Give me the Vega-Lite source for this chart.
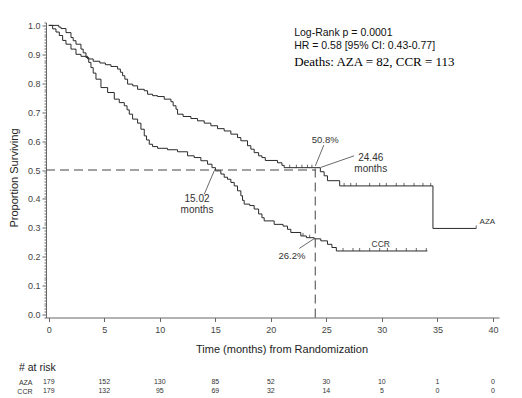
{
  "$schema": "https://vega.github.io/schema/vega-lite/v6.json",
  "background": "white",
  "padding": {"left": 8, "top": 18.5, "right": 5, "bottom": 0},
  "spacing": 8,
  "config": {"view": {"stroke": null}, "font": "Liberation Sans"},
  "datasets": {
    "km": [
      {"arm": "AZA", "t": 0, "s": 1.0}, {"arm": "AZA", "t": 0.35, "s": 0.988}, {"arm": "AZA", "t": 0.65, "s": 0.977}, {"arm": "AZA", "t": 0.95, "s": 0.965},
      {"arm": "AZA", "t": 1.25, "s": 0.948}, {"arm": "AZA", "t": 1.55, "s": 0.935}, {"arm": "AZA", "t": 2.0, "s": 0.918}, {"arm": "AZA", "t": 2.45, "s": 0.9},
      {"arm": "AZA", "t": 2.9, "s": 0.893}, {"arm": "AZA", "t": 3.5, "s": 0.884}, {"arm": "AZA", "t": 4.0, "s": 0.876}, {"arm": "AZA", "t": 4.6, "s": 0.87},
      {"arm": "AZA", "t": 5.1, "s": 0.864}, {"arm": "AZA", "t": 5.6, "s": 0.858}, {"arm": "AZA", "t": 6.2, "s": 0.849}, {"arm": "AZA", "t": 6.45, "s": 0.838},
      {"arm": "AZA", "t": 6.65, "s": 0.826}, {"arm": "AZA", "t": 6.85, "s": 0.814}, {"arm": "AZA", "t": 7.1, "s": 0.797}, {"arm": "AZA", "t": 7.56, "s": 0.791},
      {"arm": "AZA", "t": 8.0, "s": 0.779}, {"arm": "AZA", "t": 8.6, "s": 0.774}, {"arm": "AZA", "t": 8.9, "s": 0.762}, {"arm": "AZA", "t": 9.35, "s": 0.757},
      {"arm": "AZA", "t": 9.8, "s": 0.754}, {"arm": "AZA", "t": 10.4, "s": 0.745}, {"arm": "AZA", "t": 11.0, "s": 0.736}, {"arm": "AZA", "t": 11.2, "s": 0.722},
      {"arm": "AZA", "t": 11.46, "s": 0.71}, {"arm": "AZA", "t": 11.6, "s": 0.693}, {"arm": "AZA", "t": 12.1, "s": 0.685}, {"arm": "AZA", "t": 12.8, "s": 0.678},
      {"arm": "AZA", "t": 13.4, "s": 0.67}, {"arm": "AZA", "t": 14.0, "s": 0.662}, {"arm": "AZA", "t": 14.6, "s": 0.653}, {"arm": "AZA", "t": 15.2, "s": 0.643},
      {"arm": "AZA", "t": 15.8, "s": 0.635}, {"arm": "AZA", "t": 16.4, "s": 0.624}, {"arm": "AZA", "t": 17.0, "s": 0.612}, {"arm": "AZA", "t": 17.3, "s": 0.601},
      {"arm": "AZA", "t": 17.9, "s": 0.584}, {"arm": "AZA", "t": 18.2, "s": 0.572}, {"arm": "AZA", "t": 18.5, "s": 0.56}, {"arm": "AZA", "t": 18.9, "s": 0.549},
      {"arm": "AZA", "t": 19.2, "s": 0.543}, {"arm": "AZA", "t": 19.5, "s": 0.533}, {"arm": "AZA", "t": 20.6, "s": 0.525}, {"arm": "AZA", "t": 21.0, "s": 0.516},
      {"arm": "AZA", "t": 21.2, "s": 0.508}, {"arm": "AZA", "t": 24.46, "s": 0.494}, {"arm": "AZA", "t": 24.8, "s": 0.48}, {"arm": "AZA", "t": 25.1, "s": 0.463},
      {"arm": "AZA", "t": 26.2, "s": 0.445}, {"arm": "AZA", "t": 34.6, "s": 0.298}, {"arm": "AZA", "t": 38.5, "s": 0.298},
      {"arm": "CCR", "t": 0, "s": 1.0}, {"arm": "CCR", "t": 0.9, "s": 0.994}, {"arm": "CCR", "t": 1.1, "s": 0.989}, {"arm": "CCR", "t": 1.55, "s": 0.975},
      {"arm": "CCR", "t": 2.0, "s": 0.958}, {"arm": "CCR", "t": 2.2, "s": 0.947}, {"arm": "CCR", "t": 2.45, "s": 0.935}, {"arm": "CCR", "t": 2.9, "s": 0.918},
      {"arm": "CCR", "t": 3.1, "s": 0.905}, {"arm": "CCR", "t": 3.35, "s": 0.889}, {"arm": "CCR", "t": 3.6, "s": 0.872}, {"arm": "CCR", "t": 3.8, "s": 0.854},
      {"arm": "CCR", "t": 4.0, "s": 0.835}, {"arm": "CCR", "t": 4.25, "s": 0.814}, {"arm": "CCR", "t": 4.7, "s": 0.785}, {"arm": "CCR", "t": 5.3, "s": 0.768},
      {"arm": "CCR", "t": 5.9, "s": 0.745}, {"arm": "CCR", "t": 6.35, "s": 0.733}, {"arm": "CCR", "t": 6.8, "s": 0.722}, {"arm": "CCR", "t": 7.05, "s": 0.708},
      {"arm": "CCR", "t": 7.25, "s": 0.693}, {"arm": "CCR", "t": 7.55, "s": 0.676}, {"arm": "CCR", "t": 8.0, "s": 0.662}, {"arm": "CCR", "t": 8.3, "s": 0.641},
      {"arm": "CCR", "t": 8.6, "s": 0.618}, {"arm": "CCR", "t": 8.8, "s": 0.604}, {"arm": "CCR", "t": 9.05, "s": 0.589}, {"arm": "CCR", "t": 9.35, "s": 0.581},
      {"arm": "CCR", "t": 9.8, "s": 0.575}, {"arm": "CCR", "t": 10.7, "s": 0.57}, {"arm": "CCR", "t": 11.6, "s": 0.563}, {"arm": "CCR", "t": 12.5, "s": 0.549},
      {"arm": "CCR", "t": 13.1, "s": 0.543}, {"arm": "CCR", "t": 13.7, "s": 0.532}, {"arm": "CCR", "t": 14.3, "s": 0.52}, {"arm": "CCR", "t": 14.7, "s": 0.508},
      {"arm": "CCR", "t": 15.02, "s": 0.497}, {"arm": "CCR", "t": 15.5, "s": 0.486}, {"arm": "CCR", "t": 15.8, "s": 0.475}, {"arm": "CCR", "t": 16.1, "s": 0.468},
      {"arm": "CCR", "t": 16.4, "s": 0.457}, {"arm": "CCR", "t": 16.7, "s": 0.445}, {"arm": "CCR", "t": 17.0, "s": 0.428}, {"arm": "CCR", "t": 17.3, "s": 0.411},
      {"arm": "CCR", "t": 17.45, "s": 0.395}, {"arm": "CCR", "t": 17.6, "s": 0.382}, {"arm": "CCR", "t": 18.1, "s": 0.377}, {"arm": "CCR", "t": 18.5, "s": 0.365},
      {"arm": "CCR", "t": 18.9, "s": 0.348}, {"arm": "CCR", "t": 19.2, "s": 0.335}, {"arm": "CCR", "t": 19.4, "s": 0.324}, {"arm": "CCR", "t": 20.3, "s": 0.312},
      {"arm": "CCR", "t": 21.1, "s": 0.306}, {"arm": "CCR", "t": 21.5, "s": 0.295}, {"arm": "CCR", "t": 21.8, "s": 0.284}, {"arm": "CCR", "t": 22.7, "s": 0.272},
      {"arm": "CCR", "t": 23.2, "s": 0.266}, {"arm": "CCR", "t": 23.9, "s": 0.262}, {"arm": "CCR", "t": 24.5, "s": 0.255}, {"arm": "CCR", "t": 25.1, "s": 0.243},
      {"arm": "CCR", "t": 25.5, "s": 0.232}, {"arm": "CCR", "t": 25.9, "s": 0.22}, {"arm": "CCR", "t": 34.1, "s": 0.22}
    ],
    "censor": [
      {"arm": "AZA", "t": 21.7, "s": 0.508}, {"arm": "AZA", "t": 22.3, "s": 0.508}, {"arm": "AZA", "t": 22.8, "s": 0.508}, {"arm": "AZA", "t": 23.3, "s": 0.508},
      {"arm": "AZA", "t": 23.7, "s": 0.508}, {"arm": "AZA", "t": 26.6, "s": 0.445}, {"arm": "AZA", "t": 27.2, "s": 0.445}, {"arm": "AZA", "t": 27.7, "s": 0.445},
      {"arm": "AZA", "t": 28.9, "s": 0.445}, {"arm": "AZA", "t": 29.8, "s": 0.445}, {"arm": "AZA", "t": 30.4, "s": 0.445}, {"arm": "AZA", "t": 31.3, "s": 0.445},
      {"arm": "AZA", "t": 32.0, "s": 0.445}, {"arm": "AZA", "t": 32.9, "s": 0.445}, {"arm": "AZA", "t": 33.7, "s": 0.445}, {"arm": "AZA", "t": 34.4, "s": 0.445},
      {"arm": "AZA", "t": 38.5, "s": 0.298},
      {"arm": "CCR", "t": 22.9, "s": 0.272}, {"arm": "CCR", "t": 23.5, "s": 0.266}, {"arm": "CCR", "t": 26.5, "s": 0.22}, {"arm": "CCR", "t": 27.4, "s": 0.22},
      {"arm": "CCR", "t": 28.0, "s": 0.22}, {"arm": "CCR", "t": 28.9, "s": 0.22}, {"arm": "CCR", "t": 29.8, "s": 0.22}, {"arm": "CCR", "t": 30.5, "s": 0.22},
      {"arm": "CCR", "t": 31.3, "s": 0.22}, {"arm": "CCR", "t": 32.2, "s": 0.22}, {"arm": "CCR", "t": 33.1, "s": 0.22}, {"arm": "CCR", "t": 34.0, "s": 0.22}
    ],
    "risk": [
      {"arm": "AZA", "t": 0, "n": 179}, {"arm": "AZA", "t": 5, "n": 152}, {"arm": "AZA", "t": 10, "n": 130}, {"arm": "AZA", "t": 15, "n": 85},
      {"arm": "AZA", "t": 20, "n": 52}, {"arm": "AZA", "t": 25, "n": 30}, {"arm": "AZA", "t": 30, "n": 10}, {"arm": "AZA", "t": 35, "n": 1},
      {"arm": "AZA", "t": 40, "n": 0},
      {"arm": "CCR", "t": 0, "n": 179}, {"arm": "CCR", "t": 5, "n": 132}, {"arm": "CCR", "t": 10, "n": 95}, {"arm": "CCR", "t": 15, "n": 69},
      {"arm": "CCR", "t": 20, "n": 32}, {"arm": "CCR", "t": 25, "n": 14}, {"arm": "CCR", "t": 30, "n": 5}, {"arm": "CCR", "t": 35, "n": 0},
      {"arm": "CCR", "t": 40, "n": 0}
    ],
    "one": [{}]
  },
  "vconcat": [
    {
      "width": 453,
      "height": 295,
      "layer": [
        {
          "data": {"name": "km"},
          "mark": {"type": "line", "interpolate": "step-after", "color": "#2a2a2a", "strokeWidth": 1},
          "encoding": {
            "x": {"field": "t", "type": "quantitative", "scale": {"domain": [-0.25, 40.55], "nice": false, "zero": false},
              "axis": {"values": [0, 5, 10, 15, 20, 25, 30, 35, 40], "title": "Time (months) from Randomization", "grid": false,
                "labelFontSize": 9, "labelColor": "#444", "labelPadding": 4, "tickSize": 4, "tickColor": "#666", "domainColor": "#666",
                "titleFontSize": 11, "titleFontWeight": "normal", "titleColor": "#222", "titleX": 235.5, "titleY": 31.7, "titleBaseline": "middle"}},
            "y": {"field": "s", "type": "quantitative", "scale": {"domain": [-0.01, 1.01], "nice": false, "zero": false},
              "axis": {"tickCount": 100, "labelOverlap": false, "labelExpr": "round(datum.value*100)%10===0 ? format(datum.value,'.1f') : ''",
                "title": "Proportion Surviving", "grid": false,
                "labelFontSize": 9, "labelColor": "#444", "labelPadding": 2,
                "tickSize": {"condition": {"test": "round(datum.value*100)%10===0", "value": 4}, "value": 2},
                "tickColor": "#666", "domainColor": "#666",
                "titleFontSize": 11, "titleFontWeight": "normal", "titleColor": "#222", "titleX": -32, "titleY": 155, "titleBaseline": "middle"}},
            "detail": {"field": "arm"}
          }
        },
        {
          "data": {"name": "censor"},
          "mark": {"type": "point", "shape": "M0,0L0,-1", "size": 36, "filled": false, "color": "#2a2a2a", "strokeWidth": 1},
          "encoding": {
            "x": {"field": "t", "type": "quantitative"},
            "y": {"field": "s", "type": "quantitative"},
            "detail": {"field": "arm"}
          }
        },
        {
          "data": {"name": "one"},
          "mark": {"type": "rule", "strokeDash": [9, 5], "color": "#444", "strokeWidth": 1},
          "encoding": {"x": {"datum": -0.25}, "x2": {"datum": 24}, "y": {"datum": 0.5}}
        },
        {
          "data": {"name": "one"},
          "mark": {"type": "rule", "strokeDash": [9, 5], "color": "#444", "strokeWidth": 1},
          "encoding": {"x": {"datum": 24}, "y": {"datum": 0.505}, "y2": {"datum": -0.01}}
        },
        {
          "data": {"name": "one"},
          "mark": {"type": "rule", "color": "#444", "strokeWidth": 0.8},
          "encoding": {"x": {"datum": 24.77}, "x2": {"datum": 24.01}, "y": {"datum": 0.586}, "y2": {"datum": 0.514}}
        },
        {
          "data": {"name": "one"},
          "mark": {"type": "rule", "color": "#444", "strokeWidth": 0.8},
          "encoding": {"x": {"datum": 27.5}, "x2": {"datum": 24.5}, "y": {"datum": 0.549}, "y2": {"datum": 0.509}}
        },
        {
          "data": {"name": "one"},
          "mark": {"type": "rule", "color": "#444", "strokeWidth": 0.8},
          "encoding": {"x": {"datum": 14.0}, "x2": {"datum": 14.9}, "y": {"datum": 0.416}, "y2": {"datum": 0.497}}
        },
        {
          "data": {"name": "one"},
          "mark": {"type": "rule", "color": "#444", "strokeWidth": 0.8},
          "encoding": {"x": {"datum": 22.57}, "x2": {"datum": 23.92}, "y": {"datum": 0.229}, "y2": {"datum": 0.263}}
        },
        {
          "data": {"name": "one"},
          "mark": {"type": "text", "text": ["Log-Rank p = 0.0001", "HR = 0.58 [95% CI: 0.43-0.77]"], "align": "left", "baseline": "alphabetic", "fontSize": 10.5, "lineHeight": 12.5, "color": "#111"},
          "encoding": {"x": {"datum": 22.1}, "y": {"datum": 0.963}}
        },
        {
          "data": {"name": "one"},
          "mark": {"type": "text", "text": "Deaths: AZA = 82, CCR = 113", "align": "left", "baseline": "alphabetic", "font": "Liberation Serif", "fontSize": 13, "color": "#000"},
          "encoding": {"x": {"datum": 22.1}, "y": {"datum": 0.858}}
        },
        {
          "data": {"name": "one"},
          "mark": {"type": "text", "text": "50.8%", "align": "center", "baseline": "alphabetic", "fontSize": 9.5, "color": "#333"},
          "encoding": {"x": {"datum": 24.9}, "y": {"datum": 0.593}}
        },
        {
          "data": {"name": "one"},
          "mark": {"type": "text", "text": ["24.46", "months"], "align": "center", "baseline": "alphabetic", "fontSize": 10, "lineHeight": 11, "color": "#333"},
          "encoding": {"x": {"datum": 29.0}, "y": {"datum": 0.532}}
        },
        {
          "data": {"name": "one"},
          "mark": {"type": "text", "text": ["15.02", "months"], "align": "center", "baseline": "alphabetic", "fontSize": 10, "lineHeight": 11, "color": "#333"},
          "encoding": {"x": {"datum": 13.35}, "y": {"datum": 0.388}}
        },
        {
          "data": {"name": "one"},
          "mark": {"type": "text", "text": "26.2%", "align": "center", "baseline": "alphabetic", "fontSize": 9.5, "color": "#333"},
          "encoding": {"x": {"datum": 21.9}, "y": {"datum": 0.194}}
        },
        {
          "data": {"name": "one"},
          "mark": {"type": "text", "text": "CCR", "align": "center", "baseline": "alphabetic", "fontSize": 8.5, "color": "#333"},
          "encoding": {"x": {"datum": 29.9}, "y": {"datum": 0.235}}
        },
        {
          "data": {"name": "one"},
          "mark": {"type": "text", "text": "AZA", "align": "left", "baseline": "alphabetic", "fontSize": 8, "color": "#333"},
          "encoding": {"x": {"datum": 38.8}, "y": {"datum": 0.312}}
        }
      ]
    },
    {
      "width": 453,
      "height": 18,
      "title": {"text": "# at risk", "anchor": "start", "frame": "group", "dx": -27, "fontSize": 10.5, "fontWeight": "normal", "offset": 4, "color": "#222"},
      "data": {"name": "risk"},
      "mark": {"type": "text", "fontSize": 7, "color": "#333"},
      "encoding": {
        "x": {"field": "t", "type": "quantitative", "scale": {"domain": [-0.25, 40.55], "nice": false, "zero": false}, "axis": null},
        "y": {"field": "arm", "type": "nominal", "scale": {"type": "point", "domain": ["AZA", "CCR"], "padding": 0.5},
          "axis": {"title": null, "domain": false, "ticks": false, "labelFontSize": 7, "labelPadding": 14, "labelColor": "#333"}},
        "text": {"field": "n", "type": "quantitative"}
      }
    }
  ]
}
